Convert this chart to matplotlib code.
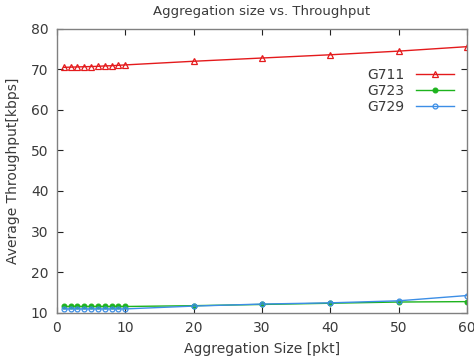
import matplotlib
matplotlib.use("Agg")
import matplotlib.pyplot as plt

x = [1, 2, 3, 4, 5, 6, 7, 8, 9, 10, 20, 30, 40, 50, 60]
g711 = [70.5, 70.55, 70.6, 70.65, 70.7, 70.75, 70.85, 70.9, 71.0, 71.1, 72.0, 72.8, 73.6, 74.5, 75.6]
g723 = [11.5, 11.5, 11.5, 11.5, 11.5, 11.5, 11.5, 11.5, 11.5, 11.5, 11.7, 12.0, 12.3, 12.6, 12.7]
g729 = [10.9, 10.9, 10.9, 10.9, 10.9, 10.9, 10.9, 10.9, 10.9, 10.9, 11.6, 12.1, 12.4, 12.9, 14.2]
xticks = [0, 10, 20, 30, 40, 50, 60]
yticks = [10, 20, 30, 40, 50, 60, 70, 80]

plt.rcParams['font.family'] = ['DejaVu Sans']
txt = '#3a3a3a'
fig = plt.figure(figsize=(4.74, 3.56), dpi=100)
ax = fig.add_axes([0.120, 0.122, 0.865, 0.797])

ax.plot(x, g711, color='#e41a1c', lw=1.0, marker='^', ms=4.5, mfc='none', mew=0.9, label='G711')
ax.plot(x, g723, color='#1db31d', lw=1.0, marker='o', ms=3.5, mfc='#1db31d', mew=0.8, label='G723')
ax.plot(x, g729, color='#3c8ee6', lw=1.0, marker='o', ms=3.5, mfc='none', mew=0.9, label='G729')

ax.set_xlim(0, 60)
ax.set_ylim(10, 80)
ax.set_xticks(xticks)
ax.set_yticks(yticks)
ax.tick_params(direction='in', top=True, right=True, length=4, width=0.8,
               labelsize=10, colors='#222222', labelcolor=txt, pad=6)
for s in ax.spines.values():
    s.set_color('#808080')
    s.set_linewidth(1.0)

ax.set_title('Aggregation size vs. Throughput', fontsize=9.5, color=txt, pad=10)
ax.set_xlabel('Aggregation Size [pkt]', fontsize=10, color=txt, labelpad=5)
ax.set_ylabel('Average Throughput[kbps]', fontsize=10, color=txt, labelpad=8)

leg = ax.legend(loc='upper right', bbox_to_anchor=(1.0, 0.905), frameon=False,
                markerfirst=False, fontsize=10, handlelength=2.8, labelspacing=0.12,
                handletextpad=0.8, borderaxespad=0.5)
for t in leg.get_texts():
    t.set_color(txt)

fig.savefig('out.png', dpi=100)
